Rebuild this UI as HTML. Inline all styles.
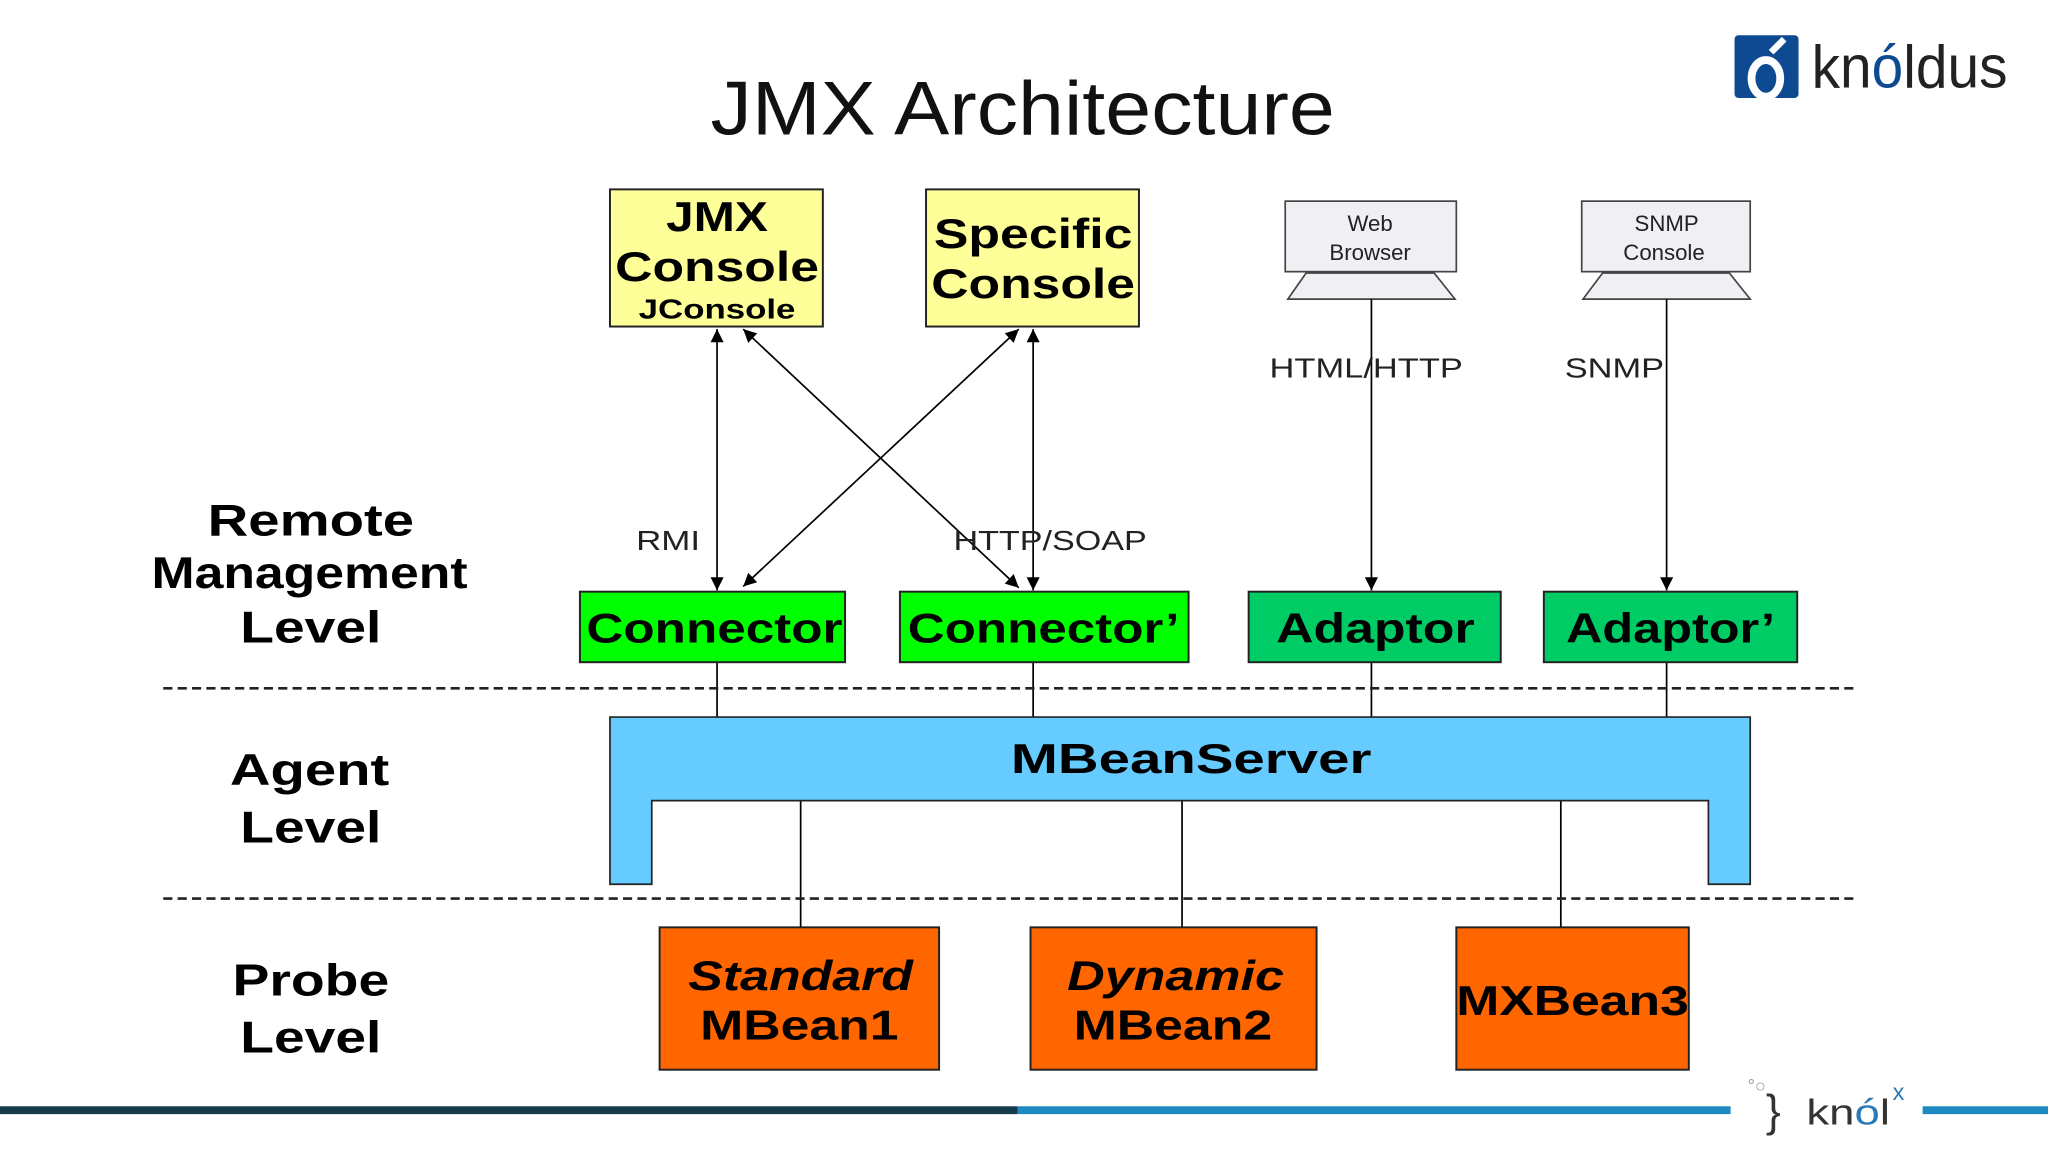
<!DOCTYPE html>
<html><head><meta charset="utf-8"><style>html,body{margin:0;padding:0;background:#fff;}svg{display:block}</style></head>
<body>
<svg xmlns="http://www.w3.org/2000/svg" width="2048" height="1152" viewBox="0 0 1568 882" font-family="Liberation Sans, sans-serif">
<defs>
<marker id="a" viewBox="0 0 10 10" refX="10" refY="5" markerWidth="7" markerHeight="9" orient="auto-start-reverse" markerUnits="userSpaceOnUse"><path d="M0,0 L10,5 L0,10 z" fill="#000"/></marker>
<marker id="b" viewBox="0 0 10 10" refX="10" refY="5" markerWidth="13" markerHeight="10" orient="auto-start-reverse" markerUnits="userSpaceOnUse"><path d="M0,0 L10,5 L0,10 z" fill="#000"/></marker>
</defs>
<rect width="1568" height="882" fill="#fff"/>
<text x="783" y="103" font-size="58" text-anchor="middle" textLength="478" lengthAdjust="spacingAndGlyphs" fill="#111">JMX Architecture</text>
<!-- logo -->
<rect x="1328" y="27" width="49" height="48" rx="3" fill="#0d4a92"/>
<ellipse cx="1352" cy="60" rx="11" ry="14" fill="none" stroke="#fff" stroke-width="6"/>
<line x1="1356" y1="40" x2="1366" y2="30" stroke="#fff" stroke-width="5"/>
<text x="1387" y="67" font-size="46" textLength="150" lengthAdjust="spacingAndGlyphs" fill="#222">kn<tspan fill="#0d4a92">ó</tspan>ldus</text>
<!-- consoles -->
<rect x="467" y="145" width="163" height="105" fill="#ffff99" stroke="#222" stroke-width="1.5"/>
<g font-weight="bold" text-anchor="middle" fill="#000">
<text x="549" y="177" font-size="32" textLength="78" lengthAdjust="spacingAndGlyphs">JMX</text>
<text x="549" y="215" font-size="32" textLength="156" lengthAdjust="spacingAndGlyphs">Console</text>
<text x="549" y="244" font-size="21" textLength="120" lengthAdjust="spacingAndGlyphs">JConsole</text>
</g>
<rect x="709" y="145" width="163" height="105" fill="#ffff99" stroke="#222" stroke-width="1.5"/>
<g font-weight="bold" text-anchor="middle" fill="#000">
<text x="791" y="190" font-size="32" textLength="152" lengthAdjust="spacingAndGlyphs">Specific</text>
<text x="791" y="228" font-size="32" textLength="156" lengthAdjust="spacingAndGlyphs">Console</text>
</g>
<!-- monitors -->
<g stroke="#444" stroke-width="1.3" fill="#f0f0f4">
<rect x="984" y="154" width="131" height="54"/>
<polygon points="1000,209 1098,209 1114,229 986,229"/>
<rect x="1211" y="154" width="129" height="54"/>
<polygon points="1227,209 1324,209 1340,229 1212,229"/>
</g>
<g font-size="17" text-anchor="middle" fill="#222">
<text x="1049" y="177">Web</text><text x="1049" y="199">Browser</text>
<text x="1276" y="177">SNMP</text><text x="1274" y="199">Console</text>
</g>
<!-- connectors lines -->
<g stroke="#000" stroke-width="1.3">
<line x1="549" y1="252" x2="549" y2="452" marker-start="url(#b)" marker-end="url(#b)"/>
<line x1="791" y1="252" x2="791" y2="452" marker-start="url(#b)" marker-end="url(#b)"/>
<line x1="569" y1="252" x2="780" y2="450" marker-start="url(#b)" marker-end="url(#b)"/>
<line x1="780" y1="252" x2="569" y2="449" marker-start="url(#b)" marker-end="url(#b)"/>
<line x1="1050" y1="229" x2="1050" y2="452" marker-end="url(#b)"/>
<line x1="1276" y1="229" x2="1276" y2="452" marker-end="url(#b)"/>
<line x1="549" y1="507" x2="549" y2="549"/>
<line x1="791" y1="507" x2="791" y2="549"/>
<line x1="1050" y1="507" x2="1050" y2="549"/>
<line x1="1276" y1="507" x2="1276" y2="549"/>
<line x1="613" y1="613" x2="613" y2="710"/>
<line x1="905" y1="613" x2="905" y2="710"/>
<line x1="1195" y1="613" x2="1195" y2="710"/>
</g>
<g font-size="21" fill="#222">
<text x="972" y="289" textLength="148" lengthAdjust="spacingAndGlyphs">HTML/HTTP</text>
<text x="1198" y="289" textLength="76" lengthAdjust="spacingAndGlyphs">SNMP</text>
<text x="487" y="421" textLength="49" lengthAdjust="spacingAndGlyphs">RMI</text>
<text x="730" y="421" textLength="148" lengthAdjust="spacingAndGlyphs">HTTP/SOAP</text>
</g>
<!-- green boxes -->
<g stroke="#222" stroke-width="1.5">
<rect x="444" y="453" width="203" height="54" fill="#00ff00"/>
<rect x="689" y="453" width="221" height="54" fill="#00ff00"/>
<rect x="956" y="453" width="193" height="54" fill="#00cc66"/>
<rect x="1182" y="453" width="194" height="54" fill="#00cc66"/>
</g>
<g font-size="32" font-weight="bold" fill="#000">
<text x="449" y="492" textLength="196" lengthAdjust="spacingAndGlyphs">Connector</text>
<text x="695" y="492" textLength="208" lengthAdjust="spacingAndGlyphs">Connector’</text>
<text x="977" y="492" textLength="152" lengthAdjust="spacingAndGlyphs">Adaptor</text>
<text x="1199" y="492" textLength="160" lengthAdjust="spacingAndGlyphs">Adaptor’</text>
</g>
<!-- dashed -->
<g stroke="#222" stroke-width="2" stroke-dasharray="7,4">
<line x1="125" y1="527" x2="1422" y2="527"/>
<line x1="125" y1="688" x2="1422" y2="688"/>
</g>
<!-- MBeanServer -->
<path d="M467,549 H1340 V677 H1308 V613 H499 V677 H467 Z" fill="#66ccff" stroke="#222" stroke-width="1.3"/>
<text x="912" y="592" font-size="32" font-weight="bold" text-anchor="middle" textLength="276" lengthAdjust="spacingAndGlyphs">MBeanServer</text>
<!-- orange -->
<g stroke="#222" stroke-width="1.5" fill="#ff6600">
<rect x="505" y="710" width="214" height="109"/>
<rect x="789" y="710" width="219" height="109"/>
<rect x="1115" y="710" width="178" height="109"/>
</g>
<g font-size="32" font-weight="bold" text-anchor="middle" fill="#000">
<text x="613" y="758" font-style="italic" textLength="172" lengthAdjust="spacingAndGlyphs">Standard</text>
<text x="612" y="796" textLength="152" lengthAdjust="spacingAndGlyphs">MBean1</text>
<text x="900" y="758" font-style="italic" textLength="166" lengthAdjust="spacingAndGlyphs">Dynamic</text>
<text x="898" y="796" textLength="152" lengthAdjust="spacingAndGlyphs">MBean2</text>
<text x="1204" y="777" textLength="178" lengthAdjust="spacingAndGlyphs">MXBean3</text>
</g>
<!-- level labels -->
<g font-size="34" font-weight="bold" text-anchor="middle" fill="#000">
<text x="238" y="410" textLength="158" lengthAdjust="spacingAndGlyphs">Remote</text>
<text x="237" y="450" textLength="242" lengthAdjust="spacingAndGlyphs">Management</text>
<text x="238" y="492" textLength="108" lengthAdjust="spacingAndGlyphs">Level</text>
<text x="237" y="601" textLength="122" lengthAdjust="spacingAndGlyphs">Agent</text>
<text x="238" y="645" textLength="108" lengthAdjust="spacingAndGlyphs">Level</text>
<text x="238" y="762" textLength="120" lengthAdjust="spacingAndGlyphs">Probe</text>
<text x="238" y="806" textLength="108" lengthAdjust="spacingAndGlyphs">Level</text>
</g>
<!-- bottom bar -->
<rect x="0" y="847" width="779" height="6" fill="#143a4c"/>
<rect x="779" y="847" width="789" height="6" fill="#1e88c0"/>
<rect x="1325" y="805" width="147" height="77" fill="#fff"/>
<text x="1338" y="836" font-size="14" fill="#999">°○</text>
<text x="1352" y="862" font-size="34" fill="#333">}</text>
<text x="1383" y="861" font-size="28" fill="#333" textLength="64" lengthAdjust="spacingAndGlyphs">kn<tspan fill="#2a7ab8">ó</tspan>l</text>
<text x="1449" y="842" font-size="18" fill="#2a7ab8">x</text>
</svg>
</body></html>
